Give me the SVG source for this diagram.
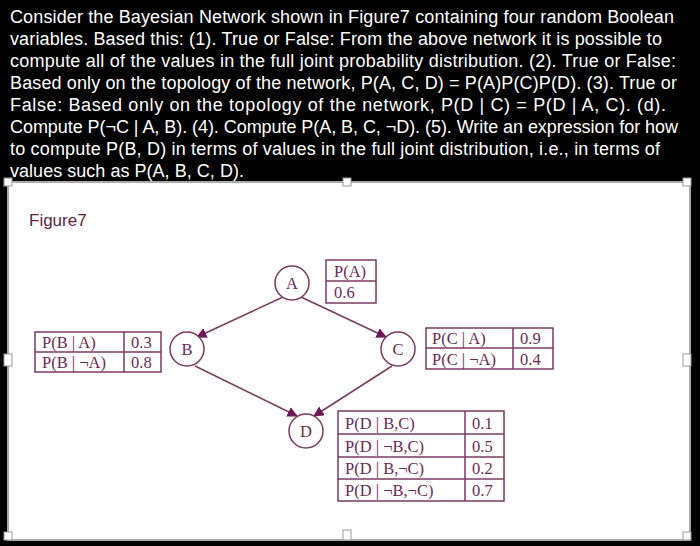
<svg xmlns="http://www.w3.org/2000/svg" width="700" height="546" viewBox="0 0 700 546">
<style>
.q{font-family:"Liberation Sans",Arial,sans-serif;font-size:18px;fill:#fff}
.t{font-family:"Liberation Serif","Times New Roman",serif;font-size:16.5px;fill:#6b2a55}
.b{fill:#fff;stroke:#7a3a63;stroke-width:1.5}
.l{stroke:#7a3a63;stroke-width:1.5;fill:none}
.h{fill:#fff;stroke:#999;stroke-width:1}
</style>
<defs><marker id="ar" viewBox="0 0 10 10" refX="9" refY="5" markerWidth="7" markerHeight="7" orient="auto"><path d="M0,0L10,5L0,10z" fill="#6b1a55"/></marker></defs>
<rect width="700" height="546" fill="#000"/>
<g id="question" class="q">
<text x="10" y="23" textLength="664">Consider the Bayesian Network shown in Figure7 containing four random Boolean</text>
<text x="10" y="45" textLength="652">variables. Based this: (1). True or False: From the above network it is possible to</text>
<text x="10" y="67" textLength="666">compute all of the values in the full joint probability distribution. (2). True or False:</text>
<text x="10" y="89" textLength="667">Based only on the topology of the network, P(A, C, D) = P(A)P(C)P(D). (3). True or</text>
<text x="10" y="111" textLength="656">False: Based only on the topology of the network, P(D | C) = P(D | A, C). (d).</text>
<text x="10" y="133" textLength="668">Compute P(¬C | A, B). (4). Compute P(A, B, C, ¬D). (5). Write an expression for how</text>
<text x="10" y="155" textLength="650">to compute P(B, D) in terms of values in the full joint distribution, i.e., in terms of</text>
<text x="10" y="177" textLength="234">values such as P(A, B, C, D).</text>
</g>
<rect x="8" y="182" width="682" height="358" fill="#fff" stroke="#aaa" stroke-width="2"/>
<g id="handles">
<rect class="h" x="4" y="178" width="8" height="8"/><rect class="h" x="343" y="178" width="8" height="8"/><rect class="h" x="683" y="178" width="8" height="8"/>
<rect class="h" x="4" y="354" width="8" height="12"/><rect class="h" x="683" y="354" width="8" height="12"/>
<rect class="h" x="4" y="532" width="8" height="8"/><rect class="h" x="343" y="530" width="8" height="10"/><rect class="h" x="683" y="532" width="8" height="8"/>
</g>
<text x="29" y="226" font-family="Liberation Sans,Arial,sans-serif" font-size="17" fill="#5a1f4a">Figure7</text>
<g id="connectors">
<line class="l" x1="283" y1="297" x2="197" y2="337" marker-end="url(#ar)"/>
<line class="l" x1="301" y1="297" x2="386" y2="337" marker-end="url(#ar)"/>
<line class="l" x1="195" y1="366" x2="297" y2="416" marker-end="url(#ar)"/>
<line class="l" x1="392" y1="366" x2="314" y2="416" marker-end="url(#ar)"/>
</g>
<g id="A"><circle class="b" cx="292" cy="283" r="17"/><text class="t" x="292" y="289" text-anchor="middle">A</text>
<rect class="b" x="326" y="260" width="50" height="43"/><line class="l" x1="326" y1="281" x2="376" y2="281"/>
<text class="t" x="334" y="277">P(A)</text><text class="t" x="334" y="298">0.6</text></g>
<g id="B"><circle class="b" cx="187" cy="349" r="17"/><text class="t" x="187" y="355" text-anchor="middle">B</text>
<rect class="b" x="35" y="332" width="126" height="40"/><line class="l" x1="35" y1="352" x2="161" y2="352"/><line class="l" x1="124" y1="332" x2="124" y2="372"/>
<text class="t" x="42" y="348">P(B | A)</text><text class="t" x="131" y="348">0.3</text>
<text class="t" x="42" y="368">P(B | ¬A)</text><text class="t" x="131" y="368">0.8</text></g>
<g id="C"><circle class="b" cx="398" cy="349" r="17"/><text class="t" x="398" y="355" text-anchor="middle">C</text>
<rect class="b" x="426" y="328" width="127" height="41"/><line class="l" x1="426" y1="348" x2="553" y2="348"/><line class="l" x1="513" y1="328" x2="513" y2="369"/>
<text class="t" x="432" y="344">P(C | A)</text><text class="t" x="520" y="344">0.9</text>
<text class="t" x="432" y="365">P(C | ¬A)</text><text class="t" x="520" y="365">0.4</text></g>
<g id="D"><circle class="b" cx="306" cy="431" r="17"/><text class="t" x="306" y="437" text-anchor="middle">D</text>
<rect class="b" x="338" y="411" width="166" height="90"/>
<line class="l" x1="338" y1="434" x2="504" y2="434"/><line class="l" x1="338" y1="457" x2="504" y2="457"/><line class="l" x1="338" y1="479" x2="504" y2="479"/><line class="l" x1="465" y1="411" x2="465" y2="501"/>
<text class="t" x="345" y="429">P(D | B,C)</text><text class="t" x="472" y="429">0.1</text>
<text class="t" x="345" y="452">P(D | ¬B,C)</text><text class="t" x="472" y="452">0.5</text>
<text class="t" x="345" y="474">P(D | B,¬C)</text><text class="t" x="472" y="474">0.2</text>
<text class="t" x="345" y="496">P(D | ¬B,¬C)</text><text class="t" x="472" y="496">0.7</text></g>
</svg>
